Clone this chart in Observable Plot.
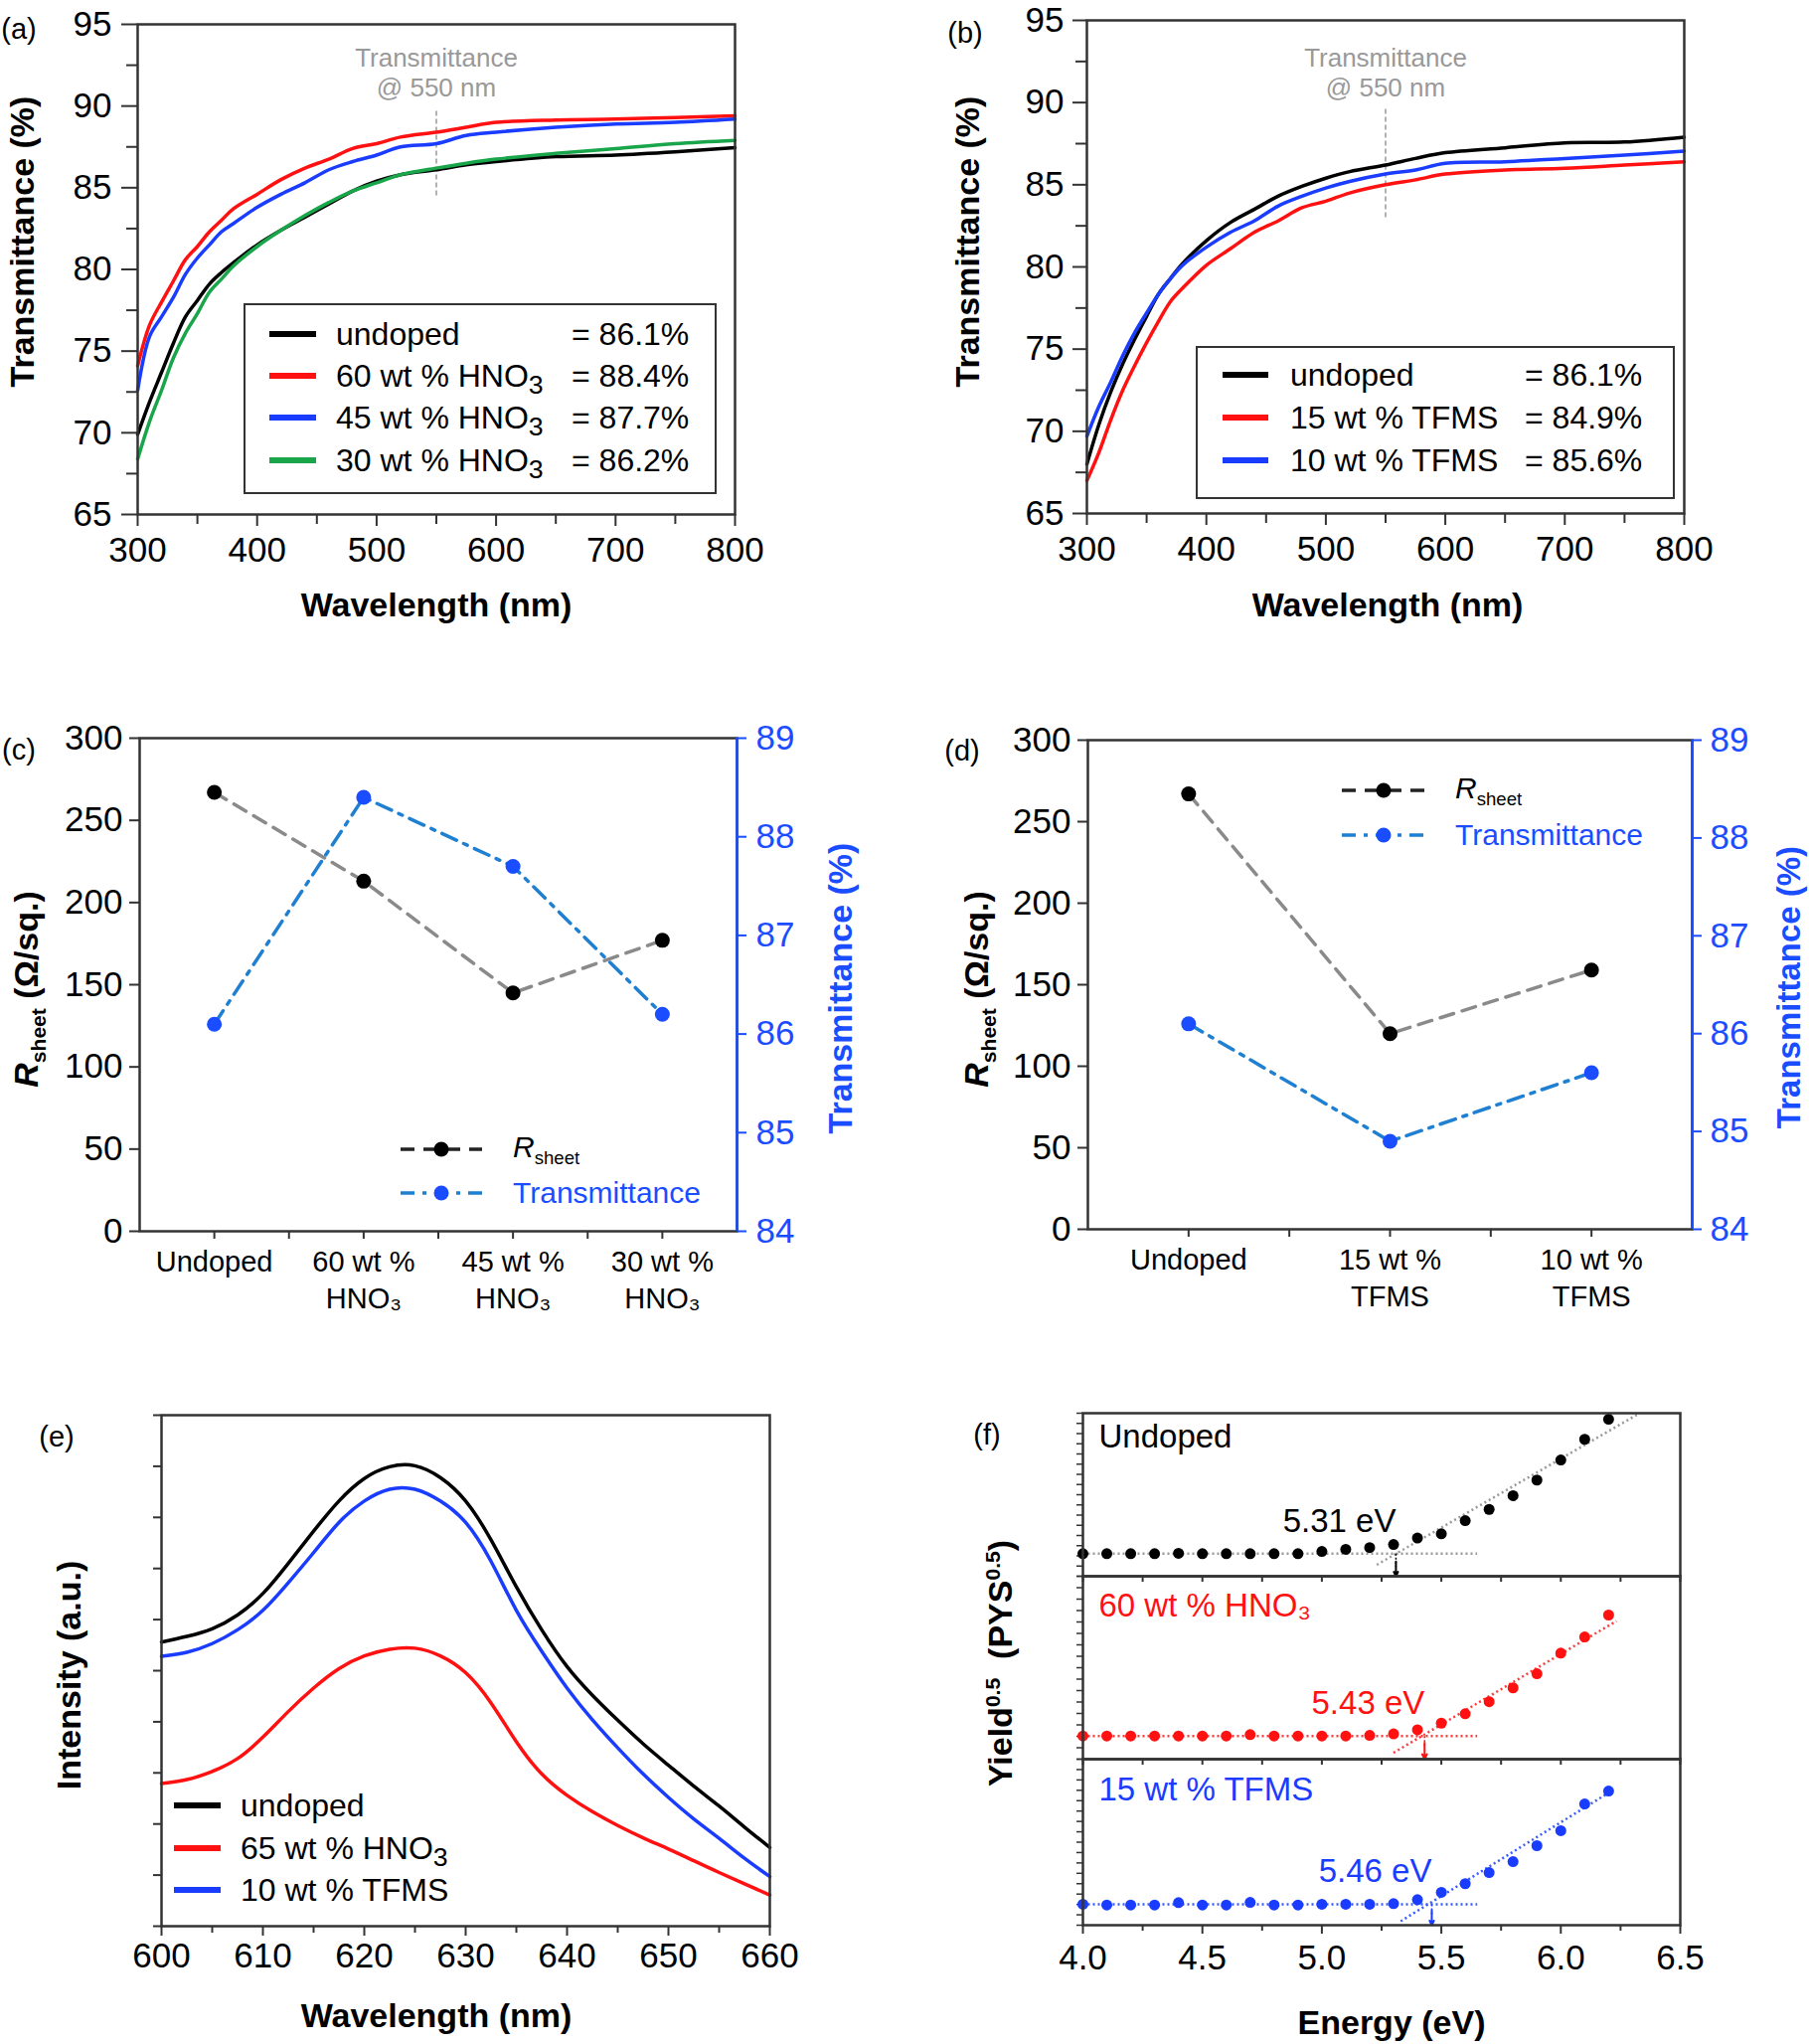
<!DOCTYPE html>
<html><head><meta charset="utf-8">
<script src="https://cdn.jsdelivr.net/npm/d3@7"></script>
<script src="https://cdn.jsdelivr.net/npm/@observablehq/plot@0.6"></script>
<style>
body{margin:0;background:#fff;}
#fig{position:relative;width:1820px;height:2056px;font-family:"Liberation Sans",Arial,Helvetica,sans-serif;color:#000;overflow:hidden;background:#fff;}
.t{position:absolute;white-space:nowrap;line-height:1;}
.box{position:absolute;border:2.5px solid #333;box-sizing:border-box;}
.sw{position:absolute;height:6px;}
sub,sup{line-height:0;}
</style></head><body><div id="fig"></div>
<script>
// ================= DATA =================
// (a),(b) transmittance spectra
const wavelengthsAB = [300,310,320,330,340,350,360,370,380,400,420,440,460,480,500,520,550,575,600,650,700,750,800];
const transA_undoped = [69.9,71.9,73.7,75.5,77.1,78.1,79.1,79.8,80.4,81.5,82.4,83.2,84.0,84.8,85.4,85.8,86.1,86.4,86.6,86.9,87.0,87.2,87.45];
const transA_hno3_60 = [74.1,76.6,78.0,79.3,80.6,81.4,82.3,83.0,83.7,84.6,85.5,86.2,86.75,87.4,87.7,88.1,88.4,88.7,89.0,89.15,89.2,89.3,89.4];
const transA_hno3_45 = [72.6,75.9,77.1,78.3,79.7,80.7,81.5,82.3,82.8,83.8,84.6,85.3,86.1,86.6,87.0,87.5,87.7,88.2,88.4,88.7,88.9,89.0,89.2];
const transA_hno3_30 = [68.4,70.7,72.6,74.6,76.1,77.3,78.6,79.4,80.2,81.4,82.4,83.3,84.1,84.8,85.3,85.8,86.2,86.5,86.75,87.1,87.4,87.7,87.9];
const legendValuesA = [86.1, 88.4, 87.7, 86.2];

const transB_undoped = [68.0,70.4,72.4,74.1,75.6,77.0,78.35,79.3,80.2,81.6,82.7,83.5,84.3,84.9,85.4,85.8,86.2,86.6,86.95,87.25,87.55,87.6,87.9];
const transB_tfms_15 = [67.0,68.7,70.7,72.5,74.0,75.4,76.7,77.9,78.7,80.1,81.1,82.1,82.8,83.6,84.0,84.5,85.0,85.3,85.65,85.9,86.0,86.2,86.4];
const transB_tfms_10 = [69.7,71.5,73.0,74.6,76.0,77.2,78.35,79.3,80.1,81.2,82.1,82.8,83.7,84.3,84.8,85.2,85.65,85.9,86.3,86.4,86.6,86.8,87.05];
const legendValuesB = [86.1, 84.9, 85.6];
const markerWavelength = 550;
const markerRangeA = [84.5, 89.8];
const markerRangeB = [83.0, 89.6];

// (c),(d) sheet resistance & transmittance
const categoriesC = ["Undoped", "60 wt %\nHNO₃", "45 wt %\nHNO₃", "30 wt %\nHNO₃"];
const rsheetC = [267, 213, 145, 177];
const transC = [86.1, 88.4, 87.7, 86.2];
const categoriesD = ["Undoped", "15 wt %\nTFMS", "10 wt %\nTFMS"];
const rsheetD = [267, 120, 159];
const transD = [86.1, 84.9, 85.6];

// (e) PL spectra (arbitrary units)
const wavelengthsE = [600,602.5,605,607.5,610,612.5,615,617.5,620,622.5,625,627.5,630,632.5,635,637.5,640,642.5,645,647.5,650,652.5,655,657.5,660];
const plE_undoped = [5.56,5.67,5.82,6.09,6.51,7.10,7.73,8.32,8.76,8.99,9.01,8.78,8.32,7.56,6.64,5.80,5.08,4.52,4.03,3.57,3.15,2.74,2.35,1.94,1.54];
const plE_hno3_65 = [2.79,2.87,3.03,3.28,3.70,4.20,4.66,5.04,5.29,5.42,5.44,5.29,4.96,4.37,3.61,2.98,2.56,2.24,1.97,1.73,1.51,1.28,1.05,0.83,0.61];
const plE_tfms_10 = [5.28,5.36,5.53,5.80,6.18,6.72,7.31,7.90,8.32,8.55,8.55,8.32,7.90,7.14,6.18,5.38,4.66,4.04,3.49,2.98,2.52,2.10,1.72,1.33,0.97];

// (f) photoelectron yield (normalised per sub-panel)
const energiesF = [4.0,4.1,4.2,4.3,4.4,4.5,4.6,4.7,4.8,4.9,5.0,5.1,5.2,5.3,5.4,5.5,5.6,5.7,5.8,5.9,6.0,6.1,6.2];
const yieldF_undoped = [0.138,0.138,0.138,0.138,0.141,0.138,0.138,0.138,0.138,0.138,0.152,0.165,0.176,0.195,0.234,0.26,0.341,0.41,0.494,0.59,0.713,0.84,0.963];
const yieldF_hno3_60 = [0.127,0.127,0.127,0.127,0.127,0.127,0.127,0.134,0.127,0.127,0.127,0.127,0.13,0.138,0.161,0.197,0.248,0.314,0.39,0.467,0.58,0.668,0.788];
const yieldF_tfms_15 = [0.126,0.122,0.122,0.122,0.136,0.122,0.122,0.137,0.122,0.122,0.126,0.126,0.126,0.13,0.154,0.198,0.25,0.317,0.383,0.479,0.569,0.73,0.808];
const thresholdsF = [5.31, 5.43, 5.46];
const baselinesF = [0.138, 0.127, 0.126];
const baselineEndF = [5.65, 5.65, 5.65];
const fitStartF = [[5.23, 0.07], [5.30, 0.035], [5.33, 0.024]];
const fitEndF = [[6.33, 1.0], [6.233, 0.755], [6.203, 0.80]];
const namesF = ["Undoped", "60 wt % HNO₃", "15 wt % TFMS"];

// ================= STYLE =================
const FONT = "'Liberation Sans', Arial, Helvetica, sans-serif";
const AX = "#333";
const BLACK = "#000", RED = "#ff1111", BLUE = "#1a3cff", GREEN = "#19a54a";
const TBLUE = "#1a4dff", TLINE = "#1f7fd0", GRAY = "#8a8a8a";
const baseStyle = {fontFamily: FONT, fontSize: "35px", background: "transparent", overflow: "visible", color: "#000"};
const blank = () => "";

const fig = document.getElementById("fig");
function place(svg, left, top) {
  svg.style.position = "absolute";
  svg.style.left = left + "px";
  svg.style.top = top + "px";
  svg.style.maxWidth = "none";
  fig.appendChild(svg);
}
function html(content, x, y, css = "", anchor = "center") {
  const d = document.createElement("div");
  d.className = "t";
  d.innerHTML = content;
  d.style.cssText += css;
  d.style.left = x + "px";
  d.style.top = y + "px";
  d.style.transform = anchor === "center" ? "translate(-50%,-50%)" : anchor === "rot" ? "translate(-50%,-50%) rotate(-90deg)" : "translate(0,-50%)";
  fig.appendChild(d);
  return d;
}

// ================= (a),(b) =================
function spectraPlot(opts) {
  const {series, range, width, mL, mR, mT, mB} = opts;
  const marks = [
    Plot.axisX({ticks: [300,400,500,600,700,800], tickSize: 12, tickPadding: 11, stroke: AX, strokeWidth: 2, fontSize: 35, label: null}),
    Plot.axisX({ticks: [350,450,550,650,750], tickSize: 10, tickFormat: blank, stroke: AX, strokeWidth: 2, label: null}),
    Plot.axisY({ticks: [65,70,75,80,85,90,95], tickSize: opts.ySize, tickPadding: opts.yPad, stroke: AX, strokeWidth: 2, fontSize: 35, label: null}),
    Plot.axisY({ticks: [67.5,72.5,77.5,82.5,87.5,92.5], tickSize: 11, tickFormat: blank, stroke: AX, strokeWidth: 2, label: null}),
    Plot.ruleX([markerWavelength], {y1: range[0], y2: range[1], stroke: "#999", strokeWidth: 1.5, strokeDasharray: "5,3"}),
    Plot.text([markerWavelength], {x: d => d, frameAnchor: "top", lineAnchor: "top", dy: opts.noteDy, text: () => "Transmittance\n@ 550 nm", lineHeight: 1.13, fill: "#999", fontSize: 26})
  ];
  for (const s of series) {
    marks.push(Plot.line(wavelengthsAB.map((w, i) => ({w, T: s.values[i]})), {x: "w", y: "T", stroke: s.color, strokeWidth: 3.5, curve: "catmull-rom"}));
  }
  marks.push(Plot.frame({stroke: AX, strokeWidth: 2.5}));
  return Plot.plot({
    width, height: 640, marginLeft: mL, marginRight: mR, marginTop: mT, marginBottom: mB,
    style: baseStyle,
    x: {domain: [300, 800], axis: null},
    y: {domain: [65, 95], axis: null},
    marks
  });
}
const seriesA = [
  {label: "undoped", values: transA_undoped, color: BLACK},
  {label: "60 wt % HNO<sub>3</sub>", values: transA_hno3_60, color: RED},
  {label: "45 wt % HNO<sub>3</sub>", values: transA_hno3_45, color: BLUE},
  {label: "30 wt % HNO<sub>3</sub>", values: transA_hno3_30, color: GREEN}
];
place(spectraPlot({series: seriesA, range: markerRangeA, width: 780, mL: 138, mR: 41, mT: 24, mB: 123, ySize: 16, yPad: 10, noteDy: 22}), 0, 0);

const seriesB = [
  {label: "undoped", values: transB_undoped, color: BLACK},
  {label: "15 wt % TFMS", values: transB_tfms_15, color: RED},
  {label: "10 wt % TFMS", values: transB_tfms_10, color: BLUE}
];
place(spectraPlot({series: seriesB, range: markerRangeB, width: 820, mL: 173, mR: 46, mT: 20, mB: 124, ySize: 14, yPad: 9, noteDy: 26}), 920, 0);

// legends (a) and (b)
function boxLegend(series, values, box, rows, swX, swW, labX, valX) {
  const b = document.createElement("div");
  b.className = "box";
  Object.assign(b.style, {left: box[0] + "px", top: box[1] + "px", width: box[2] + "px", height: box[3] + "px"});
  fig.appendChild(b);
  series.forEach((s, i) => {
    const y = rows[i];
    const sw = document.createElement("div");
    sw.className = "sw";
    Object.assign(sw.style, {left: swX + "px", top: (y - 3) + "px", width: swW + "px", background: s.color});
    fig.appendChild(sw);
    html(s.label, labX, y, "font-size:32px;", "left");
    html("= " + values[i].toFixed(1) + "%", valX, y, "font-size:32px;", "left");
  });
}
boxLegend(seriesA, legendValuesA, [245, 305, 476, 192], [336, 378, 420, 463], 271, 47, 338, 575);
boxLegend(seriesB, legendValuesB, [1203, 348, 482, 154], [377, 420, 463], 1230, 46, 1298, 1534);

// ================= (c),(d) =================
function dualPlot(cats, rs, tr, o) {
  const n = cats.length;
  const xdom = [-0.5, n - 0.5];
  const idx = d3.range(n);
  const bounds = d3.range(n - 1).map(i => i + 0.5);
  const p1 = Plot.plot({
    width: 900, height: 660, marginLeft: o.mL, marginRight: o.mR, marginTop: o.mT, marginBottom: o.mB,
    style: baseStyle,
    x: {domain: xdom, axis: null},
    y: {domain: [0, 300], axis: null},
    marks: [
      Plot.axisX({ticks: idx, tickFormat: i => cats[i], tickSize: 8, tickPadding: o.xPad, fontSize: 29, lineHeight: 1.28, stroke: AX, strokeWidth: 2, label: null}),
      Plot.axisX({ticks: bounds, tickSize: 8, tickFormat: blank, stroke: AX, strokeWidth: 2, label: null}),
      Plot.axisY({ticks: [0,50,100,150,200,250,300], tickSize: 10, tickPadding: 7, fontSize: 35, stroke: AX, strokeWidth: 2, label: null}),
      Plot.line(rs, {x: (d, i) => i, y: d => d, stroke: GRAY, strokeWidth: 3.5, strokeDasharray: "14,9"}),
      Plot.dot(rs, {x: (d, i) => i, y: d => d, r: 7.5, fill: BLACK}),
      Plot.frame({stroke: AX, strokeWidth: 2.5})
    ]
  });
  const p2 = Plot.plot({
    width: 900, height: 660, marginLeft: o.mL, marginRight: o.mR, marginTop: o.mT, marginBottom: o.mB,
    style: {...baseStyle, color: TBLUE},
    x: {domain: xdom, axis: null},
    y: {domain: [84, 89], axis: null},
    marks: [
      Plot.axisY({anchor: "right", ticks: [84,85,86,87,88,89], tickFormat: d3.format("d"), tickSize: 9, tickPadding: o.rPad, fontSize: 35, stroke: TBLUE, fill: TBLUE, strokeWidth: 2, label: null}),
      Plot.ruleX([xdom[1]], {stroke: TBLUE, strokeWidth: 2.5}),
      Plot.line(tr, {x: (d, i) => i, y: d => d, stroke: TLINE, strokeWidth: 3.5, strokeDasharray: "16,8,4,8"}),
      Plot.dot(tr, {x: (d, i) => i, y: d => d, r: 7.5, fill: TBLUE})
    ]
  });
  place(p1, o.left, o.top);
  place(p2, o.left, o.top);
}
dualPlot(categoriesC, rsheetC, transC, {left: 0, top: 680, mL: 140, mR: 159, mT: 62, mB: 102, xPad: 6, rPad: 10});
dualPlot(categoriesD, rsheetD, transD, {left: 920, top: 680, mL: 174, mR: 118, mT: 64, mB: 104, xPad: 6, rPad: 9});

function lineLegend(x, y1, y2, w, labX) {
  const mk = (color, dash, lineColor) => `<svg width="${w}" height="20" style="display:block"><line x1="0" x2="${w}" y1="10" y2="10" stroke="${lineColor}" stroke-width="3.5" stroke-dasharray="${dash}"/><circle cx="${w/2}" cy="10" r="7.5" fill="${color}"/></svg>`;
  html(mk(BLACK, "14,9", "#222"), x, y1, "", "left");
  html(mk(TBLUE, "14,8,4,8", TLINE), x, y2, "", "left");
  html("<i>R</i><sub style='font-size:0.62em'>sheet</sub>", labX, y1 - 2, "font-size:30px;", "left");
  html("Transmittance", labX, y2, "font-size:30px;color:" + TBLUE + ";", "left");
}
lineLegend(403, 1156, 1200, 82, 516);
lineLegend(1350, 795, 840, 84, 1464);

// ================= (e) =================
const seriesE = [
  {label: "undoped", values: plE_undoped, color: BLACK},
  {label: "65 wt % HNO<sub>3</sub>", values: plE_hno3_65, color: RED},
  {label: "10 wt % TFMS", values: plE_tfms_10, color: BLUE}
];
{
  const marks = [
    Plot.axisX({ticks: [600,610,620,630,640,650,660], tickSize: 10, tickPadding: 7, fontSize: 35, stroke: AX, strokeWidth: 2, label: null}),
    Plot.axisX({ticks: [605,615,625,635,645,655], tickSize: 7, tickFormat: blank, stroke: AX, strokeWidth: 2, label: null}),
    Plot.axisY({ticks: d3.range(0, 11), tickSize: 8, tickFormat: blank, stroke: AX, strokeWidth: 2, label: null})
  ];
  for (const s of seriesE) {
    marks.push(Plot.line(wavelengthsE.map((w, i) => ({w, v: s.values[i]})), {x: "w", y: "v", stroke: s.color, strokeWidth: 3.5, curve: "natural"}));
  }
  marks.push(Plot.frame({stroke: AX, strokeWidth: 2.5}));
  place(Plot.plot({
    width: 900, height: 676, marginLeft: 162, marginRight: 126, marginTop: 43, marginBottom: 119,
    style: baseStyle,
    x: {domain: [600, 660], axis: null},
    y: {domain: [0, 10], axis: null},
    marks
  }), 0, 1380);
  seriesE.forEach((s, i) => {
    const y = 1816 + i * 42.5;
    const sw = document.createElement("div");
    sw.className = "sw";
    Object.assign(sw.style, {left: "175px", top: (y - 3) + "px", width: "47px", background: s.color});
    fig.appendChild(sw);
    html(s.label, 242, y, "font-size:32px;", "left");
  });
}

// ================= (f) =================
const seriesF = [
  {values: yieldF_undoped, color: BLACK, fit: "#9a9a9a", text: BLACK},
  {values: yieldF_hno3_60, color: RED, fit: "#ff3a3a", text: RED},
  {values: yieldF_tfms_15, color: BLUE, fit: "#3a5cff", text: BLUE}
];
const layoutF = [
  {top: 1380, height: 205, mT: 41, mB: 0, nameDy: 11},
  {top: 1585, height: 184, mT: 0, mB: 0, nameDy: 17},
  {top: 1769, height: 287, mT: 0, mB: 120, nameDy: 18}
];
seriesF.forEach((s, k) => {
  const L = layoutF[k];
  const last = k === seriesF.length - 1;
  const rows = energiesF.map((e, i) => ({e, v: s.values[i]}));
  const thr = thresholdsF[k], base = baselinesF[k];
  place(Plot.plot({
    width: 900, height: L.height, marginLeft: 169, marginRight: 130, marginTop: L.mT, marginBottom: L.mB,
    style: baseStyle,
    x: {domain: [4.0, 6.5], axis: null},
    y: {domain: [0, 1], axis: null},
    marks: [
      Plot.axisX({ticks: [4.0,4.5,5.0,5.5,6.0,6.5], tickSize: last ? 9 : 6, tickPadding: 11, tickFormat: last ? d3.format(".1f") : blank, fontSize: 35, stroke: AX, strokeWidth: 2, label: null}),
      Plot.axisX({ticks: [4.25,4.75,5.25,5.75,6.25], tickSize: 6, tickFormat: blank, stroke: AX, strokeWidth: 2, label: null}),
      Plot.axisY({ticks: d3.range(0, 1.001, 0.0625), tickSize: 6, tickFormat: blank, stroke: AX, strokeWidth: 1.5, label: null}),
      Plot.link([0], {x1: () => energiesF[0], x2: () => baselineEndF[k], y1: () => base, y2: () => base, stroke: s.fit, strokeWidth: 2.5, strokeDasharray: "2,3"}),
      Plot.link([0], {x1: () => fitStartF[k][0], y1: () => fitStartF[k][1], x2: () => fitEndF[k][0], y2: () => fitEndF[k][1], stroke: s.fit, strokeWidth: 2.5, strokeDasharray: "2,3"}),
      Plot.link([0], {x1: () => thr, x2: () => thr, y1: () => base, y2: () => 0.06, stroke: s.color, strokeWidth: 1.5, strokeDasharray: "2,2"}),
      Plot.arrow([0], {x1: () => thr, x2: () => thr, y1: () => 0.09, y2: () => 0.0, stroke: s.color, strokeWidth: 2, headLength: 13, headAngle: 50}),
      Plot.dot(rows, {x: "e", y: "v", r: 5.5, fill: s.color}),
      Plot.text([thr], {x: d => d, y: () => base, text: d => d.toFixed(2) + " eV", textAnchor: "end", lineAnchor: "bottom", dy: -22, fill: s.text, fontSize: 33}),
      Plot.text([namesF[k]], {frameAnchor: "top-left", text: d => d, dx: 16, dy: L.nameDy, lineAnchor: "top", textAnchor: "start", fill: s.text, fontSize: 33}),
      Plot.frame({stroke: AX, strokeWidth: 2.5})
    ]
  }), 920, L.top);
});

// ================= titles & panel letters =================
const B = "font-weight:bold;font-size:34px;";
html("(a)", 19, 29, "font-size:29px;");
html("(b)", 971, 33, "font-size:29px;");
html("(c)", 19, 754, "font-size:29px;");
html("(d)", 968, 755, "font-size:29px;");
html("(e)", 57, 1445, "font-size:29px;");
html("(f)", 993, 1443, "font-size:29px;");

html("Transmittance (%)", 22, 243, B, "rot");
html("Wavelength (nm)", 439, 608, B);
html("Transmittance (%)", 973, 243, B, "rot");
html("Wavelength (nm)", 1396, 608, B);

const rTitle = "<i>R</i><sub style='font-size:0.62em'>sheet</sub> (Ω/sq.)";
html(rTitle, 26, 995, B, "rot");
html("Transmittance (%)", 845, 994, B + "color:" + TBLUE + ";", "rot");
html(rTitle, 982, 995, B, "rot");
html("Transmittance (%)", 1799, 993, "font-weight:bold;font-size:33px;color:" + TBLUE + ";", "rot");

html("Intensity (a.u.)", 69, 1685, B, "rot");
html("Wavelength (nm)", 439, 2027, B);
html("Yield<sup style='font-size:0.62em'>0.5</sup>&nbsp; (PYS<sup style='font-size:0.62em'>0.5</sup>)", 1006, 1673, B, "rot");
html("Energy (eV)", 1400, 2034, B);
</script></body></html>
